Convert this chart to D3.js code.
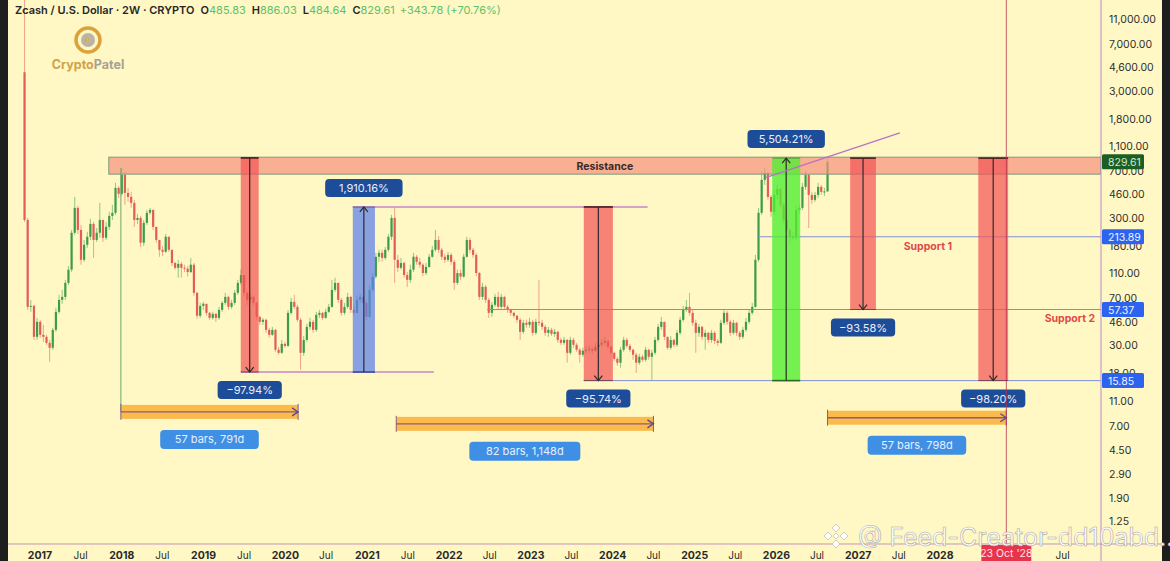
<!DOCTYPE html>
<html>
<head>
<meta charset="utf-8">
<script src="https://cdn.jsdelivr.net/npm/d3@7"></script>
<style>
  html, body { margin: 0; padding: 0; background: #1e1e1e; }
  svg { display: block; font-family: Inter, "Noto Sans", sans-serif; }
</style>
</head>
<body>
<div id="chart"></div>
<script>
// ---- datos (velas de 2 semanas, ZEC/USD) ----
const firstCandle = "2016-10-24";
const firstOpen = 4200;

const closes = [
  290, 60.2, 61.3, 35.0, 45.9, 36.3, 35.0, 31.4, 28.7, 39.7,
  55.0, 68.3, 72.1, 92.9, 118, 230, 361, 242, 141, 185,
  214, 270, 202, 230, 290, 210, 256, 312, 330, 518,
  465, 655, 473, 440, 395, 290, 301, 192, 275, 330,
  348, 256, 202, 169, 163, 214, 169, 133, 122, 131,
  122, 120, 113, 129, 77.6, 51.2, 61.3, 63.6, 54.0, 49.3,
  53.0, 49.3, 57.0, 64.7, 72.1, 60.2, 64.7, 77.6, 92.9, 107,
  77.6, 68.3, 72.1, 64.7, 50.2, 45.9, 47.6, 39.7, 36.3, 39.7,
  27.7, 26.2, 30.8, 29.7, 54.0, 65.9, 60.2, 47.6, 26.2, 33.1,
  41.9, 45.9, 39.7, 52.1, 54.0, 49.3, 55.0, 60.2, 81.9, 92.9,
  68.3, 54.0, 60.2, 72.1, 57.0, 54.0, 68.3, 72.1, 64.7, 50.2,
  81.9, 104, 149, 160, 146, 169, 214, 301, 141, 122,
  133, 107, 98.1, 118, 149, 136, 129, 111, 124, 149,
  169, 202, 169, 149, 141, 154, 136, 92.9, 111, 104,
  149, 202, 169, 154, 111, 72.1, 86.5, 68.3, 54.0, 62.4,
  72.1, 60.2, 72.1, 60.2, 57.0, 54.0, 51.2, 47.6, 38.3, 45.1,
  43.5, 45.9, 37.6, 45.9, 45.1, 41.9, 37.6, 39.7, 36.9, 38.3,
  33.1, 31.4, 33.1, 26.2, 33.1, 30.3, 27.7, 25.3, 27.2, 27.7,
  28.2, 27.2, 29.2, 30.3, 31.4, 32.5, 29.2, 26.2, 23.5, 21.9,
  27.7, 33.1, 29.7, 27.7, 25.3, 21.9, 24.4, 23.1, 27.7, 24.4,
  26.2, 33.1, 41.9, 45.9, 35.0, 28.7, 33.1, 30.3, 37.6, 47.6,
  57.0, 60.2, 54.0, 45.1, 37.6, 41.9, 35.0, 37.6, 33.1, 37.6,
  32.5, 31.4, 45.1, 54.0, 45.9, 37.6, 45.1, 37.6, 35.0, 39.7,
  45.9, 54.0, 60.2, 141, 330, 599, 680, 440, 336, 456,
  509, 381, 290, 242, 214, 210, 348, 361, 528, 655,
  456, 417, 456, 528, 482, 485.83, 829.61
];

const highs = [
  16000, 301, 68.3, 62.4, 49.3, 47.6, 43.5, 36.3, 33.1, 41.2,
  59.1, 74.8, 81.9, 98.1, 126, 242, 440, 374, 265, 202,
  234, 296, 280, 251, 395, 280, 280, 336, 381, 567,
  537, 744, 692, 518, 482, 417, 324, 312, 290, 348,
  361, 348, 251, 202, 181, 225, 214, 169, 136, 141,
  136, 129, 126, 146, 133, 79.0, 64.7, 65.9, 63.6, 55.0,
  55.0, 54.0, 60.2, 67.1, 77.6, 73.5, 68.3, 81.9, 98.1, 118,
  107, 79.0, 77.6, 73.5, 65.9, 51.2, 49.3, 48.5, 41.2, 41.9,
  40.4, 29.2, 33.1, 32.0, 57.0, 70.9, 74.8, 62.4, 49.3, 35.6,
  44.3, 49.3, 47.6, 55.0, 57.0, 55.0, 58.1, 63.6, 98.1, 102,
  91.3, 70.9, 64.7, 77.6, 73.5, 61.3, 73.5, 76.2, 73.5, 67.1,
  89.6, 111, 160, 169, 169, 178, 225, 318, 361, 154,
  146, 136, 113, 129, 160, 154, 146, 133, 133, 157,
  181, 242, 217, 175, 157, 163, 160, 141, 118, 118,
  157, 214, 210, 175, 160, 113, 92.9, 89.6, 70.9, 65.9,
  76.2, 79.0, 76.2, 73.5, 62.4, 58.1, 55.0, 52.1, 49.3, 47.6,
  47.6, 49.3, 47.6, 48.5, 98.1, 47.6, 43.5, 41.9, 41.2, 40.4,
  39.0, 34.4, 35.0, 33.7, 35.0, 34.4, 31.4, 28.7, 28.7, 29.7,
  29.7, 29.2, 31.4, 32.5, 33.7, 35.0, 33.1, 29.7, 26.7, 24.4,
  29.2, 35.0, 34.4, 30.8, 28.2, 26.2, 25.7, 25.3, 29.2, 28.2,
  27.7, 35.0, 44.3, 50.2, 45.9, 34.4, 35.6, 33.7, 39.7, 50.2,
  61.3, 68.3, 77.6, 57.0, 47.6, 44.3, 42.7, 39.7, 38.3, 39.7,
  39.0, 33.7, 47.6, 57.0, 56.0, 47.6, 47.6, 45.9, 39.0, 41.9,
  49.3, 57.0, 64.7, 154, 361, 692, 744, 692, 456, 500,
  547, 518, 395, 301, 251, 234, 374, 388, 567, 705,
  667, 482, 482, 567, 547, 518, 886.03
];

const lows = [
  280, 57.0, 55.0, 33.1, 33.1, 34.4, 32.0, 30.3, 22.3, 27.7,
  38.3, 53.0, 63.6, 68.3, 89.6, 113, 221, 225, 129, 136,
  175, 202, 146, 195, 210, 195, 202, 242, 290, 318,
  432, 448, 381, 402, 361, 256, 270, 178, 181, 265,
  318, 242, 192, 149, 151, 160, 163, 126, 118, 102,
  102, 113, 104, 111, 73.5, 48.5, 49.3, 57.0, 51.2, 47.6,
  47.6, 45.9, 47.6, 55.0, 62.4, 57.0, 58.1, 62.4, 74.8, 89.6,
  73.5, 62.4, 64.7, 61.3, 47.6, 43.5, 43.5, 37.6, 34.4, 35.6,
  26.7, 25.3, 25.7, 28.7, 29.2, 52.1, 58.1, 45.9, 19.3, 24.8,
  32.0, 39.7, 37.6, 38.3, 49.3, 47.6, 48.5, 54.0, 59.1, 79.0,
  64.7, 51.2, 52.1, 58.1, 54.0, 51.2, 53.0, 64.7, 61.3, 47.6,
  49.3, 79.0, 100, 136, 136, 141, 163, 202, 92.9, 113,
  118, 102, 86.5, 92.9, 113, 129, 122, 105, 107, 122,
  146, 163, 160, 141, 133, 136, 129, 81.9, 89.6, 98.1,
  102, 146, 160, 146, 105, 68.3, 68.3, 64.7, 49.3, 50.2,
  60.2, 57.0, 58.1, 57.0, 54.0, 51.2, 49.3, 45.1, 33.1, 36.9,
  41.2, 41.2, 35.6, 36.3, 42.7, 39.7, 35.6, 35.0, 35.6, 35.0,
  31.4, 30.3, 30.3, 21.9, 25.3, 28.7, 26.7, 21.9, 24.4, 25.7,
  26.2, 25.7, 26.7, 28.2, 29.2, 30.3, 28.2, 25.3, 22.7, 20.7,
  20.0, 26.7, 28.7, 26.7, 23.1, 18.2, 21.1, 22.3, 22.3, 23.1,
  16.0, 25.3, 32.0, 39.7, 33.1, 27.7, 27.7, 29.2, 29.2, 36.3,
  45.9, 55.0, 51.2, 42.7, 26.2, 35.0, 33.1, 27.7, 31.4, 31.4,
  30.8, 29.7, 30.8, 43.5, 43.5, 35.6, 36.3, 35.6, 33.1, 33.7,
  38.3, 44.3, 52.1, 59.1, 136, 318, 547, 417, 307, 318,
  417, 361, 275, 230, 192, 202, 202, 324, 348, 500,
  251, 388, 402, 432, 456, 448, 484.64
];

// ejes
const priceTicks = [11000, 7000, 4600, 3000, 1800, 1100, 700, 460, 300, 180, 110,
  70, 46, 30, 18, 11, 7, 4.5, 2.9, 1.9, 1.25];
const yearTicks = [2017, 2018, 2019, 2020, 2021, 2022, 2023, 2024, 2025, 2026, 2027, 2028];
const julTicks = [2017, 2018, 2019, 2020, 2021, 2022, 2023, 2024, 2025, 2026, 2027, 2029];
const crosshairDate = "2028-10-23";
const crosshairLabel = "23 Oct '28";

// zona de resistencia
const resistanceStart = "2017-11-04";
const resistanceTop = 903;
const resistanceBottom = 664;

// herramientas de rango de precio
const measureStart = ["2019-06-16", "2020-10-28", "2023-08-25", "2025-12-13", "2026-11-26", "2028-06-20"];
const measureEnd = ["2019-09-04", "2021-02-04", "2024-01-02", "2026-04-17", "2027-03-21", "2028-10-31"];
const measureFrom = [891, 18.5, 367, 15.85, 888, 888];
const measureTo = [18.5, 367, 15.85, 888, 57.37, 15.85];
const measureKind = ["down", "up", "down", "upStrong", "down", "down"];
const measureLabels = ["\u221297.94%", "1,910.16%", "\u221295.74%", "5,504.21%", "\u221293.58%", "\u221298.20%"];

// lineas horizontales
const hLinePrice = [18.5, 367, 213.89, 57.37, 15.85];
const hLineStart = ["2019-06-16", "2020-10-28", "2025-10-07", "2022-06-20", "2023-08-25"];
const hLineEnd = ["2021-10-25", "2024-06-05", null, null, null];
const hLineKind = ["purple", "purple", "blue", "blue", "blue"];

// rangos de fechas
const rangeStart = ["2017-12-28", "2021-05-10", "2026-08-17"];
const rangeEnd = ["2020-02-27", "2024-07-01", "2028-10-23"];
const rangePrice = [9.0, 7.25, 8.1];
const rangeLabels = ["57 bars, 791d", "82 bars, 1,148d", "57 bars, 798d"];

// linea de tendencia
const trendDates = ["2025-11-10", "2027-07-06"];
const trendPrices = [621, 1400];

// etiquetas de soporte
const supportLabels = ["Support 1", "Support 2"];
const supportDates = ["2027-11-08", "2029-08-03"];
const supportPrices = [181, 49.3];

// marcas de precio en el eje
const axisMarks = [829.61, 213.89, 57.37, 15.85];
const axisMarkKind = ["last", "level", "level", "level"];

// ---- medidas ----
const width = 1170;
const height = 561;
const plotLeft = 8;
const plotRight = 1101;
const plotBottom = 544;

const parseDate = d3.utcParse("%Y-%m-%d");

const x = d3.scaleUtc()
  .domain([parseDate("2017-01-01"), parseDate("2028-01-01")])
  .range([40, 940]);

const y = d3.scaleLog()
  .domain([1.25, 11000])
  .range([521, 19]);

const svg = d3.select("#chart")
  .append("svg")
  .attr("width", width)
  .attr("height", height)
  .attr("viewBox", [0, 0, width, height]);

svg.append("rect")
  .attr("x", plotLeft).attr("y", 0)
  .attr("width", 1162 - plotLeft).attr("height", height)
  .attr("fill", "#fff8c4");

svg.append("clipPath").attr("id", "plot-clip")
  .append("rect")
  .attr("x", plotLeft).attr("y", 0)
  .attr("width", plotRight - plotLeft).attr("height", plotBottom);

const plot = svg.append("g").attr("clip-path", "url(#plot-clip)");

// ---- velas ----
const t0 = parseDate(firstCandle);
const candles = closes.map((c, i) => ({
  date: d3.utcDay.offset(t0, 14 * i),
  open: i === 0 ? firstOpen : closes[i - 1],
  high: highs[i],
  low: lows[i],
  close: c
}));

const upColor = "#3c9d48";
const downColor = "#e25c5a";

const candleG = plot.append("g");

candleG.selectAll("line")
  .data(candles)
  .join("line")
  .attr("x1", d => x(d.date))
  .attr("x2", d => x(d.date))
  .attr("y1", d => y(Math.max(d.high, d.open, d.close)))
  .attr("y2", d => y(Math.min(d.low, d.open, d.close)))
  .attr("stroke", d => (d.close >= d.open ? upColor : downColor))
  .attr("stroke-opacity", 0.55)
  .attr("stroke-width", 1);

candleG.selectAll("rect")
  .data(candles)
  .join("rect")
  .attr("x", d => x(d.date) - 1.1)
  .attr("width", 2.2)
  .attr("y", d => y(Math.max(d.open, d.close)))
  .attr("height", d => Math.max(1, Math.abs(y(d.open) - y(d.close))))
  .attr("fill", d => (d.close >= d.open ? upColor : downColor));

// ---- zona de resistencia ----
plot.append("rect")
  .attr("x", x(parseDate(resistanceStart)))
  .attr("y", y(resistanceTop))
  .attr("width", plotRight - x(parseDate(resistanceStart)))
  .attr("height", y(resistanceBottom) - y(resistanceTop))
  .attr("fill", "#f5907e")
  .attr("fill-opacity", 0.7)
  .attr("stroke", "#7f9a7c")
  .attr("stroke-width", 1);

plot.append("text")
  .attr("x", (x(parseDate(resistanceStart)) + plotRight) / 2)
  .attr("y", (y(resistanceTop) + y(resistanceBottom)) / 2 + 4)
  .attr("text-anchor", "middle")
  .attr("font-size", 10.5)
  .attr("font-weight", 700)
  .attr("fill", "#3a2a2a")
  .text("Resistance");

// ---- lineas horizontales ----
const hLines = hLinePrice.map((p, i) => ({
  price: p,
  x0: x(parseDate(hLineStart[i])),
  x1: hLineEnd[i] ? x(parseDate(hLineEnd[i])) : plotRight,
  kind: hLineKind[i]
}));

plot.selectAll("line.hline")
  .data(hLines)
  .join("line")
  .attr("class", "hline")
  .attr("x1", d => d.x0)
  .attr("x2", d => d.x1)
  .attr("y1", d => y(d.price))
  .attr("y2", d => y(d.price))
  .attr("stroke", d => (d.kind === "purple" ? "#c685c8" : "#7e8fd6"))
  .attr("stroke-width", d => (d.kind === "purple" ? 1.5 : 1));

// ---- linea vertical verde del inicio del rango ----
plot.append("line")
  .attr("x1", x(parseDate(rangeStart[0])))
  .attr("x2", x(parseDate(rangeStart[0])))
  .attr("y1", y(744))
  .attr("y2", y(rangePrice[0]))
  .attr("stroke", "#6ea86a")
  .attr("stroke-width", 1);

// ---- herramientas de rango de precio ----
const fills = { down: "rgba(243,86,86,0.72)", up: "rgba(92,128,236,0.72)", upStrong: "rgba(82,238,52,0.8)" };
const edges = { down: "#4a1c1c", up: "#3a4f9a", upStrong: "#2d6b22" };

const measures = measureStart.map((s, i) => ({
  x0: x(parseDate(s)),
  x1: x(parseDate(measureEnd[i])),
  from: measureFrom[i],
  to: measureTo[i],
  kind: measureKind[i],
  label: measureLabels[i]
}));

const mG = plot.selectAll("g.measure")
  .data(measures)
  .join("g")
  .attr("class", "measure");

mG.append("rect")
  .attr("x", d => d.x0)
  .attr("width", d => d.x1 - d.x0)
  .attr("y", d => Math.min(y(d.from), y(d.to)))
  .attr("height", d => Math.abs(y(d.from) - y(d.to)))
  .attr("fill", d => fills[d.kind]);

mG.append("line")
  .attr("x1", d => d.x0).attr("x2", d => d.x1)
  .attr("y1", d => y(d.from)).attr("y2", d => y(d.from))
  .attr("stroke", d => edges[d.kind])
  .attr("stroke-width", 1.6);

mG.append("line")
  .attr("x1", d => d.x0).attr("x2", d => d.x1)
  .attr("y1", d => y(d.to)).attr("y2", d => y(d.to))
  .attr("stroke", d => edges[d.kind])
  .attr("stroke-opacity", 0.6)
  .attr("stroke-width", 1);

mG.append("line")
  .attr("x1", d => (d.x0 + d.x1) / 2).attr("x2", d => (d.x0 + d.x1) / 2)
  .attr("y1", d => y(d.from)).attr("y2", d => y(d.to))
  .attr("stroke", "#2b2b2b")
  .attr("stroke-width", 1.2);

mG.append("path")
  .attr("d", d => {
    const cx = (d.x0 + d.x1) / 2;
    const ty = y(d.to);
    const dir = d.to < d.from ? -1 : 1; // flecha hacia abajo o arriba
    return `M${cx - 4},${ty + dir * 5}L${cx},${ty}L${cx + 4},${ty + dir * 5}`;
  })
  .attr("fill", "none")
  .attr("stroke", "#2b2b2b")
  .attr("stroke-width", 1.2);

// etiquetas de porcentaje
const pctG = svg.selectAll("g.pct")
  .data(measures)
  .join("g")
  .attr("class", "pct")
  .attr("transform", d => {
    const cx = (d.x0 + d.x1) / 2;
    const ty = d.to < d.from ? y(d.to) + 18 : y(d.to) - 19;
    return `translate(${cx},${ty})`;
  });

pctG.append("rect")
  .attr("x", d => -(d.label.length * 3.3 + 9))
  .attr("width", d => d.label.length * 6.6 + 18)
  .attr("y", -9).attr("height", 18)
  .attr("rx", 4)
  .attr("fill", "#1d4c98");

pctG.append("text")
  .attr("text-anchor", "middle")
  .attr("y", 4)
  .attr("font-size", 11)
  .attr("fill", "#e8efff")
  .text(d => d.label);

// ---- linea de tendencia ----
plot.append("line")
  .attr("x1", x(parseDate(trendDates[0])))
  .attr("y1", y(trendPrices[0]))
  .attr("x2", x(parseDate(trendDates[1])))
  .attr("y2", y(trendPrices[1]))
  .attr("stroke", "#b673c4")
  .attr("stroke-width", 1.2);

// ---- rangos de fechas ----
const ranges = rangeStart.map((s, i) => ({
  x0: x(parseDate(s)),
  x1: x(parseDate(rangeEnd[i])),
  price: rangePrice[i],
  label: rangeLabels[i]
}));

const rG = svg.selectAll("g.range")
  .data(ranges)
  .join("g")
  .attr("class", "range");

rG.append("rect")
  .attr("x", d => d.x0).attr("width", d => d.x1 - d.x0)
  .attr("y", d => y(d.price) - 7).attr("height", 14)
  .attr("fill", "#fbb646")
  .attr("fill-opacity", 0.95);

rG.append("line")
  .attr("x1", d => d.x0).attr("x2", d => d.x1)
  .attr("y1", d => y(d.price)).attr("y2", d => y(d.price))
  .attr("stroke", "#8c5a86").attr("stroke-width", 1.4);

rG.append("path")
  .attr("d", d => `M${d.x0},${y(d.price) - 8}V${y(d.price) + 8}M${d.x1},${y(d.price) - 8}V${y(d.price) + 8}`)
  .attr("stroke", "#8c5a86").attr("stroke-width", 1);

rG.append("path")
  .attr("d", d => `M${d.x1 - 6},${y(d.price) - 4}L${d.x1},${y(d.price)}L${d.x1 - 6},${y(d.price) + 4}`)
  .attr("fill", "none")
  .attr("stroke", "#5a4a8a").attr("stroke-width", 1.3);

rG.append("rect")
  .attr("x", d => (d.x0 + d.x1) / 2 - (d.label.length * 3.1 + 9))
  .attr("width", d => d.label.length * 6.2 + 18)
  .attr("y", d => y(d.price) + 18).attr("height", 19)
  .attr("rx", 4)
  .attr("fill", "#3f8fe4");

rG.append("text")
  .attr("x", d => (d.x0 + d.x1) / 2)
  .attr("y", d => y(d.price) + 31.5)
  .attr("text-anchor", "middle")
  .attr("font-size", 11)
  .attr("fill", "#e6f0ff")
  .text(d => d.label);

// ---- etiquetas de soporte ----
svg.selectAll("text.support")
  .data(supportLabels)
  .join("text")
  .attr("class", "support")
  .attr("x", (d, i) => x(parseDate(supportDates[i])))
  .attr("y", (d, i) => y(supportPrices[i]) + 4)
  .attr("text-anchor", "middle")
  .attr("font-size", 10.5)
  .attr("font-weight", 700)
  .attr("fill", "#e0484a")
  .text(d => d);

// ---- linea vertical del cursor ----
svg.append("line")
  .attr("x1", x(parseDate(crosshairDate)))
  .attr("x2", x(parseDate(crosshairDate)))
  .attr("y1", 0).attr("y2", plotBottom)
  .attr("stroke", "#b8324f")
  .attr("stroke-opacity", 0.8)
  .attr("stroke-width", 1);

// ---- eje de precios ----
svg.append("line")
  .attr("x1", plotRight).attr("x2", plotRight)
  .attr("y1", 0).attr("y2", height)
  .attr("stroke", "#b88ac4").attr("stroke-width", 1);

svg.append("line")
  .attr("x1", plotLeft).attr("x2", 1162)
  .attr("y1", plotBottom).attr("y2", plotBottom)
  .attr("stroke", "#c793b8").attr("stroke-width", 1);

const fmt = d3.format(",.2f");

const yAxis = svg.append("g")
  .attr("transform", `translate(${plotRight + 1},0)`)
  .call(d3.axisRight(y).tickValues(priceTicks).tickFormat(fmt).tickSize(0).tickPadding(7));

yAxis.select(".domain").remove();
yAxis.selectAll("text")
  .attr("font-family", "Inter, 'Noto Sans', sans-serif")
  .attr("font-size", 10.5)
  .attr("fill", "#2f2f2f");

const markG = svg.selectAll("g.mark")
  .data(axisMarks)
  .join("g")
  .attr("class", "mark")
  .attr("transform", d => `translate(${plotRight + 1},${y(d)})`);

markG.append("rect")
  .attr("x", 0).attr("y", -7.5)
  .attr("width", 42).attr("height", 15)
  .attr("rx", 1.5)
  .attr("fill", (d, i) => (axisMarkKind[i] === "last" ? "#1d5e23" : "#2e63f0"));

markG.append("text")
  .attr("x", 6).attr("y", 4)
  .attr("font-size", 10.5)
  .attr("fill", (d, i) => (axisMarkKind[i] === "last" ? "#cfe8cf" : "#eef3ff"))
  .text(d => fmt(d));

// ---- eje de tiempo ----
const timeTicks = yearTicks.map(yr => ({ date: new Date(Date.UTC(yr, 0, 1)), label: String(yr), bold: true }))
  .concat(julTicks.map(yr => ({ date: new Date(Date.UTC(yr, 6, 1)), label: "Jul", bold: false })));

svg.selectAll("text.tick-x")
  .data(timeTicks)
  .join("text")
  .attr("class", "tick-x")
  .attr("x", d => x(d.date))
  .attr("y", 558.5)
  .attr("text-anchor", "middle")
  .attr("font-size", d => (d.bold ? 10.5 : 10))
  .attr("font-weight", d => (d.bold ? 700 : 400))
  .attr("fill", "#2a2a2a")
  .text(d => d.label);

const chX = x(parseDate(crosshairDate));
svg.append("rect")
  .attr("x", chX - 25).attr("y", plotBottom + 1)
  .attr("width", 50).attr("height", 16)
  .attr("fill", "#e8334a");
svg.append("text")
  .attr("x", chX).attr("y", 557)
  .attr("text-anchor", "middle")
  .attr("font-size", 10.5)
  .attr("fill", "#ffe4e6")
  .text(crosshairLabel);

// ---- encabezado ----
const header = svg.append("text")
  .attr("x", 15).attr("y", 14)
  .attr("font-size", 11)
  .attr("font-weight", 600)
  .attr("fill", "#262626");

header.append("tspan").text("Zcash / U.S. Dollar \u00b7 2W \u00b7 CRYPTO");
const ohlc = [["O", "485.83"], ["H", "886.03"], ["L", "484.64"], ["C", "829.61"]];
ohlc.forEach(([k, v]) => {
  header.append("tspan").attr("dx", 6).text(k);
  header.append("tspan").attr("fill", "#5fbf68").attr("font-weight", 400).text(v);
});
header.append("tspan").attr("dx", 5).attr("fill", "#5fbf68").attr("font-weight", 400).text("+343.78 (+70.76%)");

// ---- logo ----
const logo = svg.append("g").attr("transform", "translate(88,40)");
logo.append("circle").attr("r", 12).attr("fill", "none").attr("stroke", "#d9a23e").attr("stroke-width", 3.5);
logo.append("circle").attr("r", 7).attr("fill", "#b9b3a8");
logo.append("text").attr("y", 3).attr("text-anchor", "middle").attr("font-size", 8).attr("font-weight", 700)
  .attr("fill", "#e0b050").text("P");
const logoText = svg.append("text")
  .attr("x", 88).attr("y", 69)
  .attr("text-anchor", "middle")
  .attr("font-size", 12.5)
  .attr("font-weight", 700);
logoText.append("tspan").attr("fill", "#d1a24c").text("Crypto");
logoText.append("tspan").attr("fill", "#a7a294").text("Patel");

// ---- marca de agua ----
const wm = svg.append("g").attr("opacity", 0.92);
wm.append("path")
  .attr("transform", "translate(836,536)")
  .attr("d", "M0,-12L4,-8L0,-4L-4,-8Z M-8,-4L-4,0L-8,4L-12,0Z M8,-4L12,0L8,4L4,0Z M0,4L4,8L0,12L-4,8Z M0,-3L3,0L0,3L-3,0Z")
  .attr("fill", "#ffffff")
  .attr("stroke", "#a8a8a8")
  .attr("stroke-width", 0.6);
wm.append("text")
  .attr("x", 858).attr("y", 546)
  .attr("font-size", 25)
  .attr("fill", "#ffffff")
  .attr("stroke", "#a5a5a5")
  .attr("stroke-width", 0.6)
  .text("@ Feed-Creator-dd10abd...");
</script>
</body>
</html>
